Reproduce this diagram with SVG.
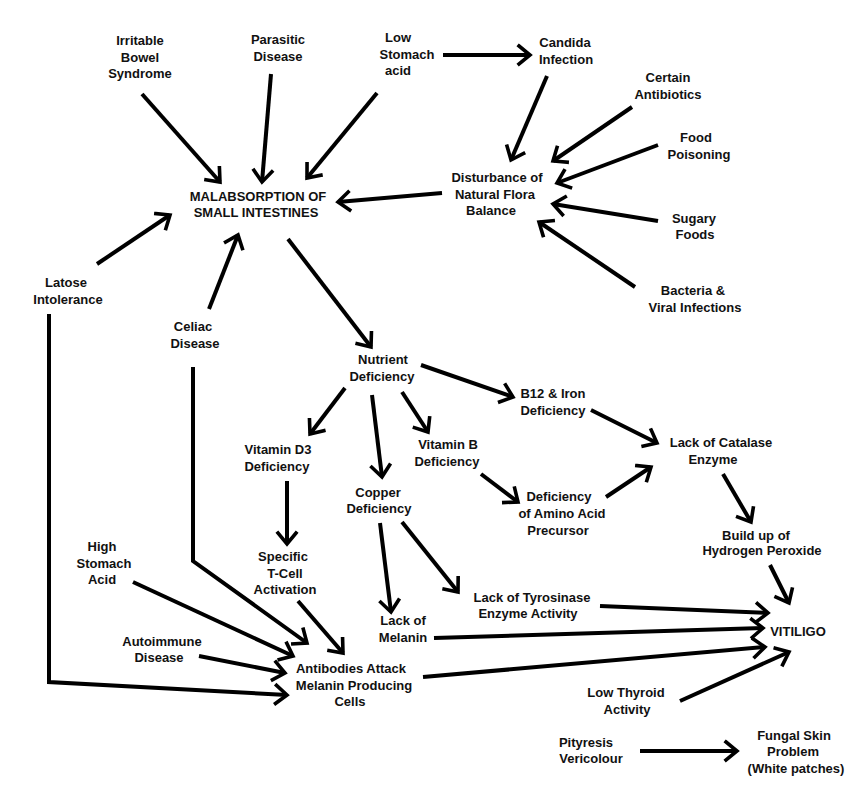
<svg xmlns="http://www.w3.org/2000/svg" width="854" height="800" viewBox="0 0 854 800">
<defs>
<marker id="ah" markerUnits="userSpaceOnUse" markerWidth="30" markerHeight="30" viewBox="-16 -15 20 30" refX="0" refY="0" orient="auto">
<path d="M-11,-9 L0,0 L-11,9" fill="none" stroke="#000" stroke-width="3.6" stroke-linecap="square" stroke-linejoin="miter"/>
</marker>
<style>
text{font-family:"Liberation Sans",Arial,sans-serif;font-weight:bold;font-size:13px;fill:#111;text-anchor:middle}
.c line,.c polyline{stroke:#000;stroke-width:4;fill:none;marker-end:url(#ah)}
</style>
</defs>
<rect width="854" height="800" fill="#fff"/>
<g class="c" id="connectors">
<line x1="142" y1="94" x2="220" y2="182"/>
<line x1="271" y1="74" x2="262" y2="182"/>
<line x1="377" y1="93" x2="307" y2="178"/>
<line x1="442" y1="193" x2="338" y2="202"/>
<line x1="97" y1="264" x2="170" y2="215"/>
<line x1="209" y1="309" x2="238" y2="235"/>
<line x1="288" y1="239" x2="371" y2="347"/>
<line x1="443" y1="55" x2="530" y2="55"/>
<line x1="547" y1="76" x2="511" y2="160"/>
<line x1="632" y1="107" x2="553" y2="161"/>
<line x1="658" y1="145" x2="557" y2="183"/>
<line x1="658" y1="221" x2="553" y2="204"/>
<line x1="635" y1="287" x2="539" y2="222"/>
<line x1="345" y1="388" x2="310" y2="434"/>
<line x1="372" y1="395" x2="382" y2="477"/>
<line x1="402" y1="392" x2="428" y2="432"/>
<line x1="421" y1="365" x2="513" y2="397"/>
<line x1="591" y1="410" x2="657" y2="443"/>
<line x1="481" y1="474" x2="518" y2="502"/>
<line x1="606" y1="497" x2="651" y2="467"/>
<line x1="723" y1="474" x2="751" y2="522"/>
<line x1="770" y1="565" x2="789" y2="603"/>
<line x1="287" y1="481" x2="287" y2="544"/>
<line x1="298" y1="601" x2="343" y2="653"/>
<line x1="380" y1="523" x2="391" y2="612"/>
<line x1="402" y1="522" x2="458" y2="592"/>
<line x1="600" y1="606" x2="768" y2="613"/>
<line x1="434" y1="638" x2="763" y2="628"/>
<line x1="423" y1="677" x2="765" y2="647"/>
<line x1="680" y1="701" x2="789" y2="652"/>
<line x1="640" y1="751" x2="737" y2="751"/>
<polyline points="193,367 193,561 307,643"/>
<line x1="133" y1="582" x2="293" y2="656"/>
<line x1="199" y1="656" x2="285" y2="673"/>
<polyline points="49,314 49,682 287,695"/>
</g>
<g id="ibs"><text x="140" y="45">Irritable<tspan x="140" dy="16.5">Bowel</tspan><tspan x="140" dy="16.5">Syndrome</tspan></text></g>
<g id="parasitic"><text x="278" y="44">Parasitic<tspan x="278" dy="16.5">Disease</tspan></text></g>
<g id="low-stomach"><text x="398" y="42">Low<tspan x="407" dy="17">Stomach</tspan><tspan x="398" dy="16">acid</tspan></text></g>
<g id="candida"><text x="565" y="47">Candida<tspan x="566" dy="16.5">Infection</tspan></text></g>
<g id="antibiotics"><text x="668" y="82">Certain<tspan x="668" dy="16.5">Antibiotics</tspan></text></g>
<g id="food"><text x="696" y="142">Food<tspan x="699" dy="16.5">Poisoning</tspan></text></g>
<g id="sugary"><text x="694" y="223">Sugary<tspan x="695" dy="16">Foods</tspan></text></g>
<g id="bacteria"><text x="693" y="295">Bacteria &amp;<tspan x="695" dy="16.5">Viral Infections</tspan></text></g>
<g id="disturbance"><text x="497" y="182">Disturbance of<tspan x="495" dy="16.5">Natural Flora</tspan><tspan x="491" dy="16.5">Balance</tspan></text></g>
<g id="malabsorption"><text x="258" y="201">MALABSORPTION OF<tspan x="256" dy="16">SMALL INTESTINES</tspan></text></g>
<g id="latose"><text x="66" y="287">Latose<tspan x="68" dy="16.5">Intolerance</tspan></text></g>
<g id="celiac"><text x="193" y="331">Celiac<tspan x="195" dy="16.5">Disease</tspan></text></g>
<g id="nutrient"><text x="383" y="364">Nutrient<tspan x="382" dy="17">Deficiency</tspan></text></g>
<g id="b12"><text x="553" y="398">B12 &amp; Iron<tspan x="553" dy="17">Deficiency</tspan></text></g>
<g id="vitd3"><text x="278" y="454">Vitamin D3<tspan x="277" dy="16.5">Deficiency</tspan></text></g>
<g id="vitb"><text x="448" y="449">Vitamin B<tspan x="447" dy="16.5">Deficiency</tspan></text></g>
<g id="copper"><text x="378" y="497">Copper<tspan x="379" dy="16">Deficiency</tspan></text></g>
<g id="amino"><text x="559" y="501">Deficiency<tspan x="562" dy="17">of Amino Acid</tspan><tspan x="558" dy="16.5">Precursor</tspan></text></g>
<g id="catalase"><text x="721" y="447">Lack of Catalase<tspan x="713" dy="17">Enzyme</tspan></text></g>
<g id="h2o2"><text x="756" y="540">Build up of<tspan x="762" dy="15">Hydrogen Peroxide</tspan></text></g>
<g id="vitiligo"><text x="798" y="636">VITILIGO</text></g>
<g id="tyrosinase"><text x="532" y="602">Lack of Tyrosinase<tspan x="528" dy="15.5">Enzyme Activity</tspan></text></g>
<g id="thyroid"><text x="626" y="697">Low Thyroid<tspan x="627" dy="17">Activity</tspan></text></g>
<g id="pityresis"><text x="586" y="747">Pityresis<tspan x="591" dy="16">Vericolour</tspan></text></g>
<g id="fungal"><text x="794" y="740">Fungal Skin<tspan x="793" dy="16">Problem</tspan><tspan x="796" dy="17">(White patches)</tspan></text></g>
<g id="high-stomach"><text x="102" y="551">High<tspan x="104" dy="16.5">Stomach</tspan><tspan x="102" dy="16">Acid</tspan></text></g>
<g id="tcell"><text x="283" y="561">Specific<tspan x="285" dy="17">T-Cell</tspan><tspan x="285" dy="16">Activation</tspan></text></g>
<g id="autoimmune"><text x="162" y="646">Autoimmune<tspan x="159" dy="16">Disease</tspan></text></g>
<g id="lack-melanin"><text x="403" y="625">Lack of<tspan x="403" dy="17">Melanin</tspan></text></g>
<g id="antibodies"><text x="351" y="673">Antibodies Attack<tspan x="354" dy="17">Melanin Producing</tspan><tspan x="350" dy="16">Cells</tspan></text></g>
</svg>
